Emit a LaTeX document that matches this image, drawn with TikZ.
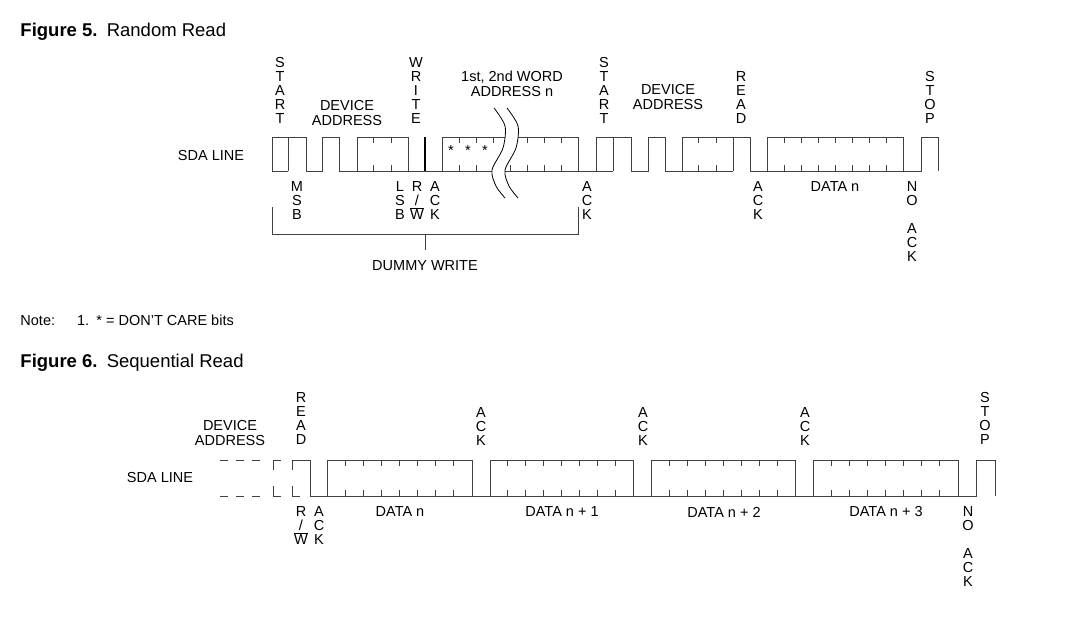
\documentclass[tikz,border=0pt]{standalone}
\usepackage{fontspec}
\setmainfont{Liberation Sans}
\begin{document}
\begin{tikzpicture}[x=1pt,y=-1pt,line width=0.9pt,
  lab/.style={font=\fontsize{14.5}{14}\selectfont,inner sep=0pt},
  vlab/.style={lab,anchor=north,align=center},
  ttl/.style={font=\fontsize{18.5}{20}\selectfont,anchor=west,inner sep=0pt},
  wave/.style={draw=black!75,line width=0.9pt}]
\useasboundingbox (0,0) rectangle (1071,631);
% ---------- Figure 5 ----------
\node[ttl] (t5) at (20,32) {\textbf{Figure 5.}\enspace Random Read};
\node[lab] (sda5) at (211,156) {SDA LINE};
\begin{scope}[wave]
\draw (272,171)--(272,137)--(306,137)--(306,171)--(322,171)--(322,137)--(339,137)--(339,171)--(357,171)--(357,137)--(408,137)--(408,171);
\draw (272,171)--(288,171) (288,137)--(288,171);
\draw (357,171)--(442,171)--(442,137)--(578,137)--(578,171)--(596,171)--(596,137)--(631,137)--(631,171)--(648,171)--(648,137)--(665,137)--(665,171)--(682,171)--(682,137)--(750,137)--(750,171)--(767,171)--(767,137)--(903,137)--(903,171)--(921,171)--(921,137)--(938,137)--(938,171);
\draw (442,171)--(578,171) (596,171)--(613,171) (613,137)--(613,171) (682,171)--(733,171) (733,137)--(733,171) (767,171)--(903,171);
\draw[line width=1.8pt,black] (425,137)--(425,171);
\foreach \x in {373,391,459,476,493,510,527,544,561,698,716,784,801,818,835,852,869,886}
  \draw (\x,137)--(\x,143) (\x,171)--(\x,165);
\end{scope}
\foreach \x in {451,468,485} \node[lab] at (\x,151) {*};
% break
\fill[white] plot[smooth] coordinates {(494,108) (505,126) (503,148) (492,170) (496,186) (505,198)}
  -- plot[smooth] coordinates {(518,198) (509,186) (505,170) (516,148) (518,126) (507,108)} -- cycle;
\draw[line width=0.8pt] plot[smooth] coordinates {(494,108) (505,126) (503,148) (492,170) (496,186) (505,198)};
\draw[line width=0.8pt] plot[smooth] coordinates {(507,108) (518,126) (516,148) (505,170) (509,186) (518,198)};
% labels above
\node[vlab] (st1) at (280,57) {S\\T\\A\\R\\T};
\node[lab,align=center] (da1) at (347,113) {DEVICE\\[1pt]ADDRESS};
\node[vlab] (wr) at (416,57) {W\\R\\I\\T\\E};
\node[lab,align=center] (da0) at (512,84) {1st, 2nd WORD\\[1pt]ADDRESS n};
\node[vlab] (st2) at (604,57) {S\\T\\A\\R\\T};
\node[lab,align=center] (da2) at (668,97) {DEVICE\\[1pt]ADDRESS};
\node[vlab] (rd) at (741,71) {R\\E\\A\\D};
\node[vlab] (sp1) at (930,71) {S\\T\\O\\P};
% labels below
\node[vlab] (msb) at (297,181) {M\\S\\B};
\node[vlab] (lsb) at (400,181) {L\\S\\B};
\node[vlab] (rw1) at (417,181) {R\\/\\$\overline{\mbox{W}}$};
\node[vlab] (ack1) at (435,181) {A\\C\\K};
\node[vlab] (ack2) at (587,181) {A\\C\\K};
\node[vlab] (ack3) at (758,181) {A\\C\\K};
\node[lab] (dn) at (835,187) {DATA n};
\node[vlab] (nack1) at (912,181) {N\\O\\\\A\\C\\K};
% bracket
\coordinate (bl) at (272,207); \coordinate (br) at (578,207);
\draw[black!75] (bl)--(272,234)--(578,234)--(br);
\draw[black!75] (425,234)--(425,250);
\node[lab] (dw) at (425,266) {DUMMY WRITE};
\node[lab,anchor=west] (note) at (20,320) {Note:\hspace{22pt}1.\enspace * = DON'T CARE bits};
% ---------- Figure 6 ----------
\node[ttl] (t6) at (20,363) {\textbf{Figure 6.}\enspace Sequential Read};
\node[lab] (sda6) at (160,478) {SDA LINE};
\begin{scope}[wave]
\draw[dash pattern=on 8pt off 8pt] (220,460)--(266,460) (220,496)--(266,496);
\draw (273,470)--(273,460)--(281,460) (273,486)--(273,496)--(281,496);
\draw (292,486)--(292,496)--(300,496);
\draw (292,470)--(292,460)--(310,460)--(310,496)--(327,496)--(327,460)--(472,460)--(472,496)--(490,496)--(490,460)--(633,460)--(633,496)--(651,496)--(651,460)--(795,460)--(795,496)--(813,496)--(813,460)--(958,460)--(958,496)--(976,496)--(976,460)--(995,460)--(995,496);
\draw (327,496)--(472,496) (490,496)--(633,496) (651,496)--(795,496) (813,496)--(958,496);
\foreach \s/\e in {327/472,490/633,651/795,813/958}
  \foreach \k in {1,...,7}
    \draw ({\s+\k*(\e-\s)/8},460)--({\s+\k*(\e-\s)/8},466) ({\s+\k*(\e-\s)/8},496)--({\s+\k*(\e-\s)/8},490);
\end{scope}
\node[lab,align=center] (da3) at (230,433) {DEVICE\\[1pt]ADDRESS};
\node[vlab] (rd2) at (301,392) {R\\E\\A\\D};
\node[vlab] (a61) at (481,407) {A\\C\\K};
\node[vlab] (a62) at (643,407) {A\\C\\K};
\node[vlab] (a63) at (805,407) {A\\C\\K};
\node[vlab] (sp2) at (985,392) {S\\T\\O\\P};
\node[vlab] (rw2) at (301,506) {R\\/\\$\overline{\mbox{W}}$};
\node[vlab] (a64) at (319,506) {A\\C\\K};
\node[lab] (d0) at (400,512) {DATA n};
\node[lab] (d1) at (562,512) {DATA n + 1};
\node[lab] (d2) at (724,512) {DATA n + 2};
\node[lab] (d3) at (886,512) {DATA n + 3};
\node[vlab] (nack2) at (968,506) {N\\O\\\\A\\C\\K};
\end{tikzpicture}
\end{document}
